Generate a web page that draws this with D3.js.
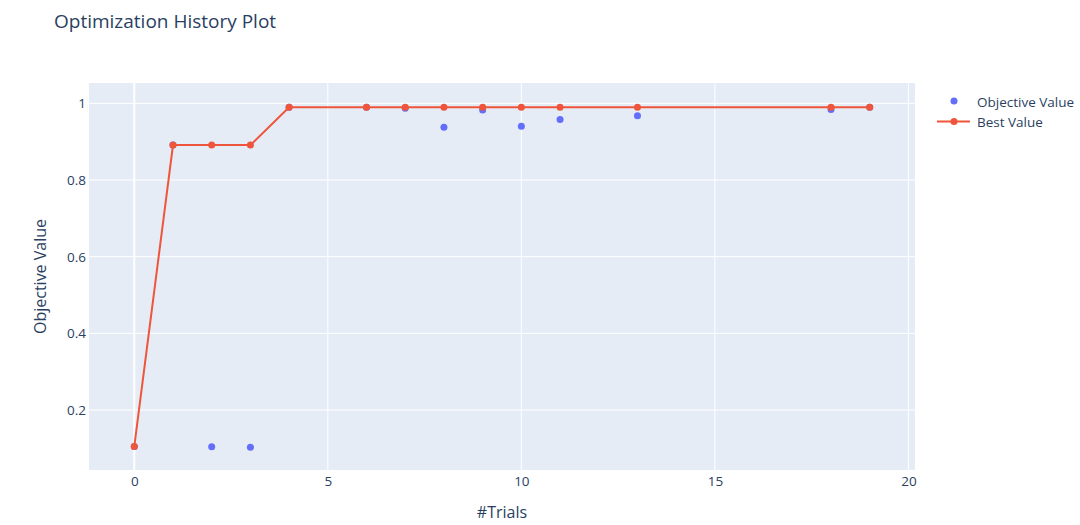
<!DOCTYPE html>
<html>
<head>
<meta charset="utf-8">
<script src="https://cdn.jsdelivr.net/npm/d3@7"></script>
<style>
  body { margin: 0; background: #fff; }
  text { font-family: "Open Sans", "Noto Sans", sans-serif; }
</style>
</head>
<body>
<div id="chart"></div>
<script>
// trial numbers that finished (5, 12, 14-17 missing)
const trials = [0, 1, 2, 3, 4, 6, 7, 8, 9, 10, 11, 13, 18, 19];
const objectiveValues = [0.105, 0.891, 0.104, 0.103, 0.9896, 0.9896, 0.987, 0.9374, 0.9825, 0.940, 0.958, 0.9677, 0.984, 0.9896];
const bestValues = [0.105, 0.891, 0.891, 0.891, 0.9896, 0.9896, 0.9896, 0.9896, 0.9896, 0.9896, 0.9896, 0.9896, 0.9896, 0.9896];
const xTicks = [0, 5, 10, 15, 20];
const yTicks = [0.2, 0.4, 0.6, 0.8, 1];

const W = 1080, H = 525;
const MARGIN = { LEFT: 89, RIGHT: 165, TOP: 83, BOTTOM: 55 };
const TEXT = "#2a3f5f";
const BLUE = "#636efa", RED = "#ef553b";

const svg = d3.select("#chart").append("svg")
  .attr("width", W)
  .attr("height", H);

const x = d3.scaleLinear()
  .domain([-1.17, 20.17])
  .range([MARGIN.LEFT, W - MARGIN.RIGHT]);
const y = d3.scaleLinear()
  .domain([0.0436, 1.053])
  .range([H - MARGIN.BOTTOM, MARGIN.TOP]);

// plot background
svg.append("rect")
  .attr("x", x.range()[0])
  .attr("y", y.range()[1])
  .attr("width", x.range()[1] - x.range()[0])
  .attr("height", y.range()[0] - y.range()[1])
  .attr("fill", "#e5ecf6");

// grid
svg.append("g")
  .selectAll("line")
  .data(yTicks)
  .join("line")
  .attr("x1", x.range()[0])
  .attr("x2", x.range()[1])
  .attr("y1", d => y(d))
  .attr("y2", d => y(d))
  .attr("stroke", "#fff")
  .attr("stroke-width", 1);

svg.append("g")
  .selectAll("line")
  .data(xTicks)
  .join("line")
  .attr("x1", d => x(d))
  .attr("x2", d => x(d))
  .attr("y1", y.range()[0])
  .attr("y2", y.range()[1])
  .attr("stroke", "#fff")
  .attr("stroke-width", d => d === 0 ? 2 : 1);

// axes (labels only)
const xAxis = svg.append("g")
  .attr("transform", `translate(0,${y.range()[0]})`)
  .call(d3.axisBottom(x).tickValues(xTicks).tickSize(0).tickPadding(6).tickFormat(d3.format("d")));
const yAxis = svg.append("g")
  .attr("transform", `translate(${x.range()[0]},0)`)
  .call(d3.axisLeft(y).tickValues(yTicks).tickSize(0).tickPadding(3).tickFormat(d => d === 1 ? "1" : d3.format(".1f")(d)));

[xAxis, yAxis].forEach(a => {
  a.select(".domain").remove();
  a.selectAll("text")
    .attr("fill", TEXT)
    .style("font-size", "13.5px")
    .style("font-family", '"Open Sans", sans-serif');
});

// axis titles
svg.append("text")
  .attr("x", (x.range()[0] + x.range()[1]) / 2)
  .attr("y", 518)
  .attr("text-anchor", "middle")
  .attr("fill", TEXT)
  .style("font-size", "16px")
  .text("#Trials");

svg.append("text")
  .attr("transform", `translate(46,${(y.range()[0] + y.range()[1]) / 2}) rotate(-90)`)
  .attr("text-anchor", "middle")
  .attr("fill", TEXT)
  .style("font-size", "16px")
  .text("Objective Value");

// title
svg.append("text")
  .attr("x", 54)
  .attr("y", 28)
  .attr("fill", TEXT)
  .style("font-size", "19px")
  .text("Optimization History Plot");

// objective value points
const objData = trials.map((t, i) => ({ trial: t, value: objectiveValues[i] }));
const bestData = trials.map((t, i) => ({ trial: t, value: bestValues[i] }));

svg.append("g")
  .selectAll("circle")
  .data(objData)
  .join("circle")
  .attr("cx", d => x(d.trial))
  .attr("cy", d => y(d.value))
  .attr("r", 3.5)
  .attr("fill", BLUE);

// best value line
svg.append("path")
  .datum(bestData)
  .attr("fill", "none")
  .attr("stroke", RED)
  .attr("stroke-width", 2)
  .attr("d", d3.line().x(d => x(d.trial)).y(d => y(d.value)));

svg.append("g")
  .selectAll("circle")
  .data(bestData)
  .join("circle")
  .attr("cx", d => x(d.trial))
  .attr("cy", d => y(d.value))
  .attr("r", 3.5)
  .attr("fill", RED);

// legend
const legend = svg.append("g");
legend.append("circle")
  .attr("cx", 954).attr("cy", 101).attr("r", 3.5).attr("fill", BLUE);
legend.append("text")
  .attr("x", 977).attr("y", 106.5)
  .attr("fill", TEXT).style("font-size", "13.5px")
  .text("Objective Value");
legend.append("line")
  .attr("x1", 937).attr("x2", 970).attr("y1", 121.5).attr("y2", 121.5)
  .attr("stroke", RED).attr("stroke-width", 2);
legend.append("circle")
  .attr("cx", 954).attr("cy", 121.5).attr("r", 3.5).attr("fill", RED);
legend.append("text")
  .attr("x", 977).attr("y", 127)
  .attr("fill", TEXT).style("font-size", "13.5px")
  .text("Best Value");
</script>
</body>
</html>
